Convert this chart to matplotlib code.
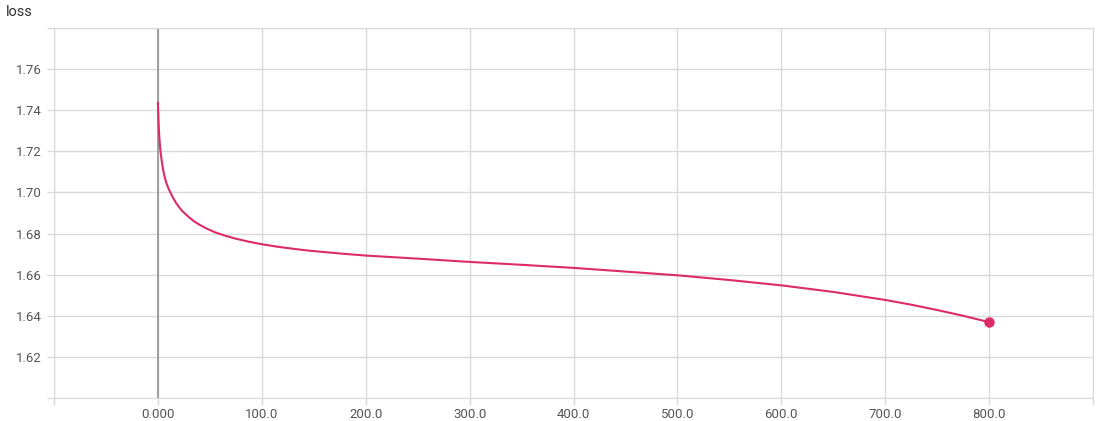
import numpy as np
import matplotlib
matplotlib.use("Agg")
import matplotlib.pyplot as plt

# loss curve
steps = [0, 0.5, 1, 1.5, 2.5, 3.5, 5, 6.5, 8, 10, 12, 14.5, 17, 20, 23, 26.5,
         30, 35, 40, 47, 55, 65, 75, 87, 100, 115, 130, 145, 160, 180, 200,
         250, 300, 350, 400, 450, 500, 550, 600, 650, 700, 725, 750, 775, 800]
loss = [1.7436, 1.736, 1.730, 1.726, 1.720, 1.716, 1.711, 1.7076, 1.7048,
        1.7022, 1.700, 1.6975, 1.6953, 1.6931, 1.6912, 1.6895, 1.6879, 1.6859,
        1.6843, 1.6824, 1.6806, 1.6789, 1.6775, 1.6761, 1.6748, 1.6736,
        1.6726, 1.6717, 1.671, 1.6701, 1.6693, 1.6678, 1.6662, 1.6648,
        1.6633, 1.6615, 1.6597, 1.6574, 1.6548, 1.6516, 1.6477, 1.6454,
        1.6428, 1.6400, 1.6369]

x_ticks = np.arange(-100, 901, 100)
y_ticks = np.round(np.arange(1.60, 1.781, 0.02), 2)

plt.rcParams["font.family"] = ["Roboto", "DejaVu Sans"]

fig = plt.figure(figsize=(11, 4.21), dpi=100)
ax = fig.add_axes([54 / 1100, 23 / 421, 1039 / 1100, 370 / 421])

ax.set_xlim(-100, 900)
ax.set_ylim(1.60, 1.78)

grid_c = "#dadada"
ax.set_xticks(x_ticks)
ax.set_xticklabels(["" if (v < 0 or v > 800) else ("0.000" if v == 0 else f"{v:.1f}")
                    for v in x_ticks])
ax.set_yticks(y_ticks)
ax.set_yticklabels(["" if (v < 1.61 or v > 1.77) else f"{v:.2f}" for v in y_ticks])
ax.grid(True, color=grid_c, linewidth=1)
ax.set_axisbelow(True)
for s in ax.spines.values():
    s.set_color(grid_c)
ax.tick_params(colors=grid_c, length=5, width=1, labelcolor="#555555", labelsize=9.5)
ax.tick_params(axis="x", pad=2.5)
ax.tick_params(axis="y", pad=4)

ax.axvline(0, color="#8a8a8a", linewidth=1.1, zorder=1.5)

line_c = "#dc2b68"
ax.plot(steps, loss, color=line_c, linewidth=1.5, zorder=3)
ax.plot(steps[-1], loss[-1], "o", color=line_c, markersize=6.5, zorder=4)

fig.text(6 / 1100, 1 - 12 / 421, "loss", fontsize=10.5, color="#333333",
         va="center", ha="left")

fig.savefig("out.png", dpi=100)
